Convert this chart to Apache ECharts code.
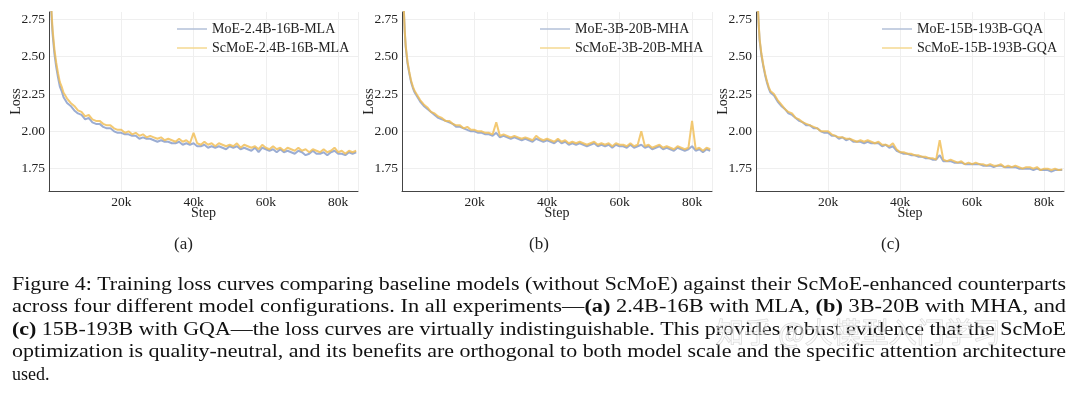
<!DOCTYPE html>
<html><head><meta charset="utf-8">
<script src="https://cdn.jsdelivr.net/npm/echarts@6/dist/echarts.min.js"></script>
<style>html,body{margin:0;padding:0;background:#fff}#c{width:1080px;height:394px}</style>
</head><body><div id="c"></div>
<script>
// ---- data ----
const steps = [0,250,500,750,1000,1500,2000,2500,3000,3500,4000,
  5000,6000,7000,8000,9000,10000,11000,12000,13000,14000,15000,16000,17000,18000,19000,20000,
  21000,22000,23000,24000,25000,26000,27000,28000,29000,30000,31000,32000,33000,34000,35000,36000,37000,38000,39000,40000,
  41000,42000,43000,44000,45000,46000,47000,48000,49000,50000,51000,52000,53000,54000,55000,56000,57000,58000,59000,60000,
  61000,62000,63000,64000,65000,66000,67000,68000,69000,70000,71000,72000,73000,74000,75000,76000,77000,78000,79000,80000,
  81000,82000,83000,84000,85000];
const xTicks = ['20k','40k','60k','80k'];
const yTicks = [1.75,2.00,2.25,2.50,2.75];

const moeA = [3.28,3.02,2.87,2.75,2.65,2.52,2.43,2.36,2.30,2.27,2.23,
  2.19,2.17,2.14,2.12,2.11,2.08,2.09,2.06,2.05,2.05,2.03,2.02,2.02,2.00,1.99,1.99,
  1.98,1.98,1.97,1.97,1.95,1.96,1.95,1.95,1.94,1.93,1.94,1.93,1.93,1.92,1.92,1.93,1.91,1.92,1.91,1.92,
  1.90,1.90,1.91,1.89,1.90,1.89,1.90,1.89,1.88,1.90,1.89,1.90,1.88,1.89,1.88,1.87,1.89,1.86,1.89,1.88,
  1.87,1.88,1.86,1.88,1.86,1.87,1.86,1.85,1.87,1.86,1.84,1.85,1.87,1.85,1.85,1.86,1.84,1.86,1.87,1.85,
  1.85,1.84,1.86,1.85,1.86];
const scmoeA = [3.30,3.05,2.90,2.78,2.68,2.55,2.46,2.39,2.33,2.30,2.26,
  2.22,2.19,2.17,2.14,2.13,2.10,2.11,2.08,2.07,2.07,2.05,2.04,2.04,2.02,2.01,2.01,
  1.99,2.00,1.98,1.99,1.97,1.98,1.96,1.97,1.96,1.95,1.96,1.94,1.95,1.94,1.93,1.95,1.93,1.94,1.92,1.99,
  1.92,1.91,1.93,1.91,1.92,1.90,1.92,1.91,1.90,1.91,1.90,1.92,1.89,1.91,1.90,1.89,1.90,1.88,1.91,1.89,
  1.88,1.90,1.88,1.89,1.87,1.89,1.88,1.87,1.89,1.87,1.88,1.86,1.88,1.87,1.86,1.88,1.86,1.87,1.89,1.86,
  1.87,1.85,1.87,1.86,1.87];
const moeB = [3.28,2.99,2.81,2.67,2.57,2.46,2.39,2.33,2.29,2.26,2.24,
  2.20,2.17,2.15,2.13,2.11,2.09,2.08,2.07,2.06,2.05,2.03,2.03,2.02,2.01,2.00,2.00,
  1.99,1.99,1.98,1.98,1.97,1.99,1.96,1.97,1.96,1.95,1.96,1.95,1.94,1.95,1.94,1.93,1.95,1.94,1.93,1.94,
  1.93,1.92,1.94,1.92,1.93,1.91,1.92,1.91,1.92,1.91,1.90,1.91,1.92,1.90,1.91,1.90,1.91,1.89,1.91,1.90,
  1.90,1.89,1.91,1.89,1.90,1.91,1.89,1.90,1.88,1.89,1.90,1.88,1.89,1.88,1.87,1.89,1.88,1.87,1.88,1.90,
  1.87,1.88,1.86,1.88,1.87];
const scmoeB = [3.30,3.00,2.82,2.68,2.58,2.47,2.40,2.34,2.30,2.27,2.25,
  2.21,2.18,2.16,2.13,2.12,2.10,2.09,2.07,2.07,2.05,2.04,2.04,2.02,2.03,2.01,2.01,
  2.00,2.00,1.99,1.99,1.98,2.06,1.97,1.98,1.97,1.96,1.97,1.96,1.95,1.96,1.95,1.94,1.97,1.95,1.94,1.95,
  1.94,1.93,1.95,1.93,1.94,1.92,1.93,1.92,1.93,1.92,1.91,1.92,1.93,1.91,1.92,1.91,1.92,1.90,1.92,1.91,
  1.91,1.90,1.92,1.90,1.91,2.00,1.90,1.91,1.89,1.90,1.91,1.89,1.90,1.89,1.88,1.90,1.89,1.88,1.89,2.07,
  1.88,1.89,1.87,1.89,1.88];
const moeC = [3.29,3.01,2.84,2.71,2.61,2.51,2.44,2.38,2.33,2.29,2.26,
  2.24,2.20,2.17,2.15,2.12,2.11,2.09,2.07,2.06,2.04,2.04,2.02,2.02,2.00,1.99,1.99,
  1.97,1.97,1.95,1.96,1.94,1.95,1.93,1.93,1.93,1.92,1.93,1.92,1.92,1.92,1.90,1.91,1.89,1.90,1.87,1.86,
  1.85,1.85,1.84,1.84,1.83,1.83,1.82,1.82,1.81,1.81,1.84,1.80,1.80,1.80,1.79,1.79,1.79,1.78,1.78,1.78,
  1.78,1.78,1.77,1.77,1.77,1.76,1.77,1.77,1.76,1.76,1.76,1.76,1.75,1.75,1.75,1.75,1.74,1.75,1.74,1.74,
  1.74,1.73,1.74,1.74,1.74];
const scmoeC = [3.30,3.02,2.85,2.72,2.62,2.52,2.45,2.39,2.34,2.30,2.27,
  2.25,2.21,2.18,2.15,2.13,2.12,2.09,2.08,2.06,2.05,2.04,2.03,2.02,2.00,2.00,2.00,
  1.98,1.97,1.96,1.96,1.95,1.95,1.94,1.93,1.94,1.93,1.94,1.93,1.92,1.93,1.91,1.91,1.90,1.92,1.88,1.86,
  1.86,1.85,1.85,1.84,1.84,1.83,1.83,1.82,1.82,1.81,1.94,1.81,1.80,1.81,1.80,1.79,1.80,1.78,1.79,1.78,
  1.79,1.78,1.78,1.77,1.78,1.77,1.77,1.78,1.76,1.77,1.76,1.77,1.76,1.75,1.76,1.76,1.75,1.76,1.74,1.75,
  1.75,1.74,1.75,1.74,1.745];

const panels = [
  {names:['MoE-2.4B-16B-MLA','ScMoE-2.4B-16B-MLA'], moe:moeA, sc:scmoeA, tag:'(a)'},
  {names:['MoE-3B-20B-MHA','ScMoE-3B-20B-MHA'], moe:moeB, sc:scmoeB, tag:'(b)'},
  {names:['MoE-15B-193B-GQA','ScMoE-15B-193B-GQA'], moe:moeC, sc:scmoeC, tag:'(c)'}
];
const captionLines = [
  [['Figure 4: Training loss curves comparing baseline models (without ScMoE) against their ScMoE-enhanced counterparts', false]],
  [['across four different model configurations. In all experiments\u2014', false], ['(a)', true], [' 2.4B-16B with MLA, ', false], ['(b)', true], [' 3B-20B with MHA, and', false]],
  [['(c)', true], [' 15B-193B with GQA\u2014the loss curves are virtually indistinguishable. This provides robust evidence that the ScMoE', false]],
  [['optimization is quality-neutral, and its benefits are orthogonal to both model scale and the specific attention architecture', false]],
  [['used.', false]]
];
const watermark = '知乎 @大模型入门学习';

// ---- layout ----
const SERIF = '"Liberation Serif","DejaVu Serif",serif';
const gridPos = [
  {left:49, width:309, legendLeft:172, tagX:183},
  {left:402, width:310, legendLeft:535, tagX:538},
  {left:756, width:308, legendLeft:877, tagX:890}
];
const BLUE = 'rgba(130,152,200,0.8)';
const ORANGE = 'rgba(240,188,80,0.8)';
const tickLabel = v => {
  const i = Math.round(v/20000) - 1;
  return (i >= 0 && i < xTicks.length && Math.abs(v - (i+1)*20000) < 1) ? xTicks[i] : '';
};

const grid = [], xAxis = [], yAxis = [], series = [], legend = [], graphic = [];
panels.forEach((p, k) => {
  const g = gridPos[k];
  grid.push({left:g.left, top:12, width:g.width, height:179});
  xAxis.push({
    type:'value', gridIndex:k, min:0, max:85500, interval:20000,
    name:'Step', nameLocation:'middle', nameGap:15, nameMoveOverlap:false,
    nameTextStyle:{fontFamily:SERIF, fontSize:14, color:'#222'},
    axisLine:{show:true, lineStyle:{color:'#444', width:1}},
    axisTick:{show:false},
    axisLabel:{formatter:tickLabel, fontFamily:SERIF, fontSize:13.5, color:'#222', margin:4, showMinLabel:false, showMaxLabel:false},
    splitLine:{show:true, lineStyle:{color:'#efefef', width:1}}
  });
  yAxis.push({
    type:'value', gridIndex:k, min:1.6, max:2.8,
    name:'Loss', nameLocation:'middle', nameGap:26, nameRotate:90, nameMoveOverlap:false,
    nameTextStyle:{fontFamily:SERIF, fontSize:14, color:'#222'},
    axisLine:{show:true, lineStyle:{color:'#444', width:1}},
    axisTick:{show:false, customValues:yTicks},
    axisLabel:{customValues:yTicks, formatter:v => v.toFixed(2), fontFamily:SERIF, fontSize:13.5, color:'#222', margin:4},
    splitLine:{show:true, lineStyle:{color:'#efefef', width:1}}
  });
  series.push({
    name:p.names[0], type:'line', xAxisIndex:k, yAxisIndex:k, showSymbol:false, symbol:'none',
    lineStyle:{color:BLUE, width:2}, itemStyle:{color:'#b3c0d8'}, clip:true, animation:false,
    data: steps.map((s,i) => [s, p.moe[i]])
  });
  series.push({
    name:p.names[1], type:'line', xAxisIndex:k, yAxisIndex:k, showSymbol:false, symbol:'none',
    lineStyle:{color:ORANGE, width:2}, itemStyle:{color:'#f4d890'}, clip:true, animation:false,
    data: steps.map((s,i) => [s, p.sc[i]])
  });
  legend.push({
    data:p.names, orient:'vertical', left:g.legendLeft, top:17, itemGap:5,
    icon:'rect', itemWidth:30, itemHeight:1.5,
    textStyle:{fontFamily:SERIF, fontSize:14, color:'#222'}, selectedMode:false
  });
  graphic.push({type:'text', left:g.tagX - 9, top:236,
    style:{text:p.tag, font:'17px ' + SERIF, fill:'#222'}});
});

// caption lines, stretched to justified width
const ctx = document.createElement('canvas').getContext('2d');
const FS = 18;
const lineY = [285, 307.5, 330, 352.5, 375];
captionLines.forEach((parts, li) => {
  let w = 0;
  parts.forEach(([t, b]) => { ctx.font = (b ? 'bold ' : '') + FS + 'px ' + SERIF; w += ctx.measureText(t).width; });
  const target = 1054;
  const sx = li < captionLines.length - 1 ? target / w : 1;
  const text = parts.map(([t, b]) => b ? '{b|' + t + '}' : '{n|' + t.replace(/[{}|]/g,'') + '}').join('');
  graphic.push({
    type:'text', x:12, y:lineY[li], scaleX:sx, originX:0,
    style:{text:text, fill:'#111', verticalAlign:'middle', align:'left',
      rich:{n:{fontFamily:SERIF, fontSize:FS, fill:'#111'}, b:{fontFamily:SERIF, fontSize:FS, fontWeight:'bold', fill:'#111'}}}
  });
});
graphic.push({type:'text', x:716, y:332,
  style:{text:watermark, font:'28px "Noto Sans CJK SC"', fill:'rgba(255,255,255,0.55)', stroke:'rgba(140,140,140,0.35)', lineWidth:1, verticalAlign:'middle'}});

const chart = echarts.init(document.getElementById('c'), null, {renderer:'canvas'});
chart.setOption({animation:false, backgroundColor:'#fff', grid, xAxis, yAxis, series, legend, graphic});
</script></body></html>
